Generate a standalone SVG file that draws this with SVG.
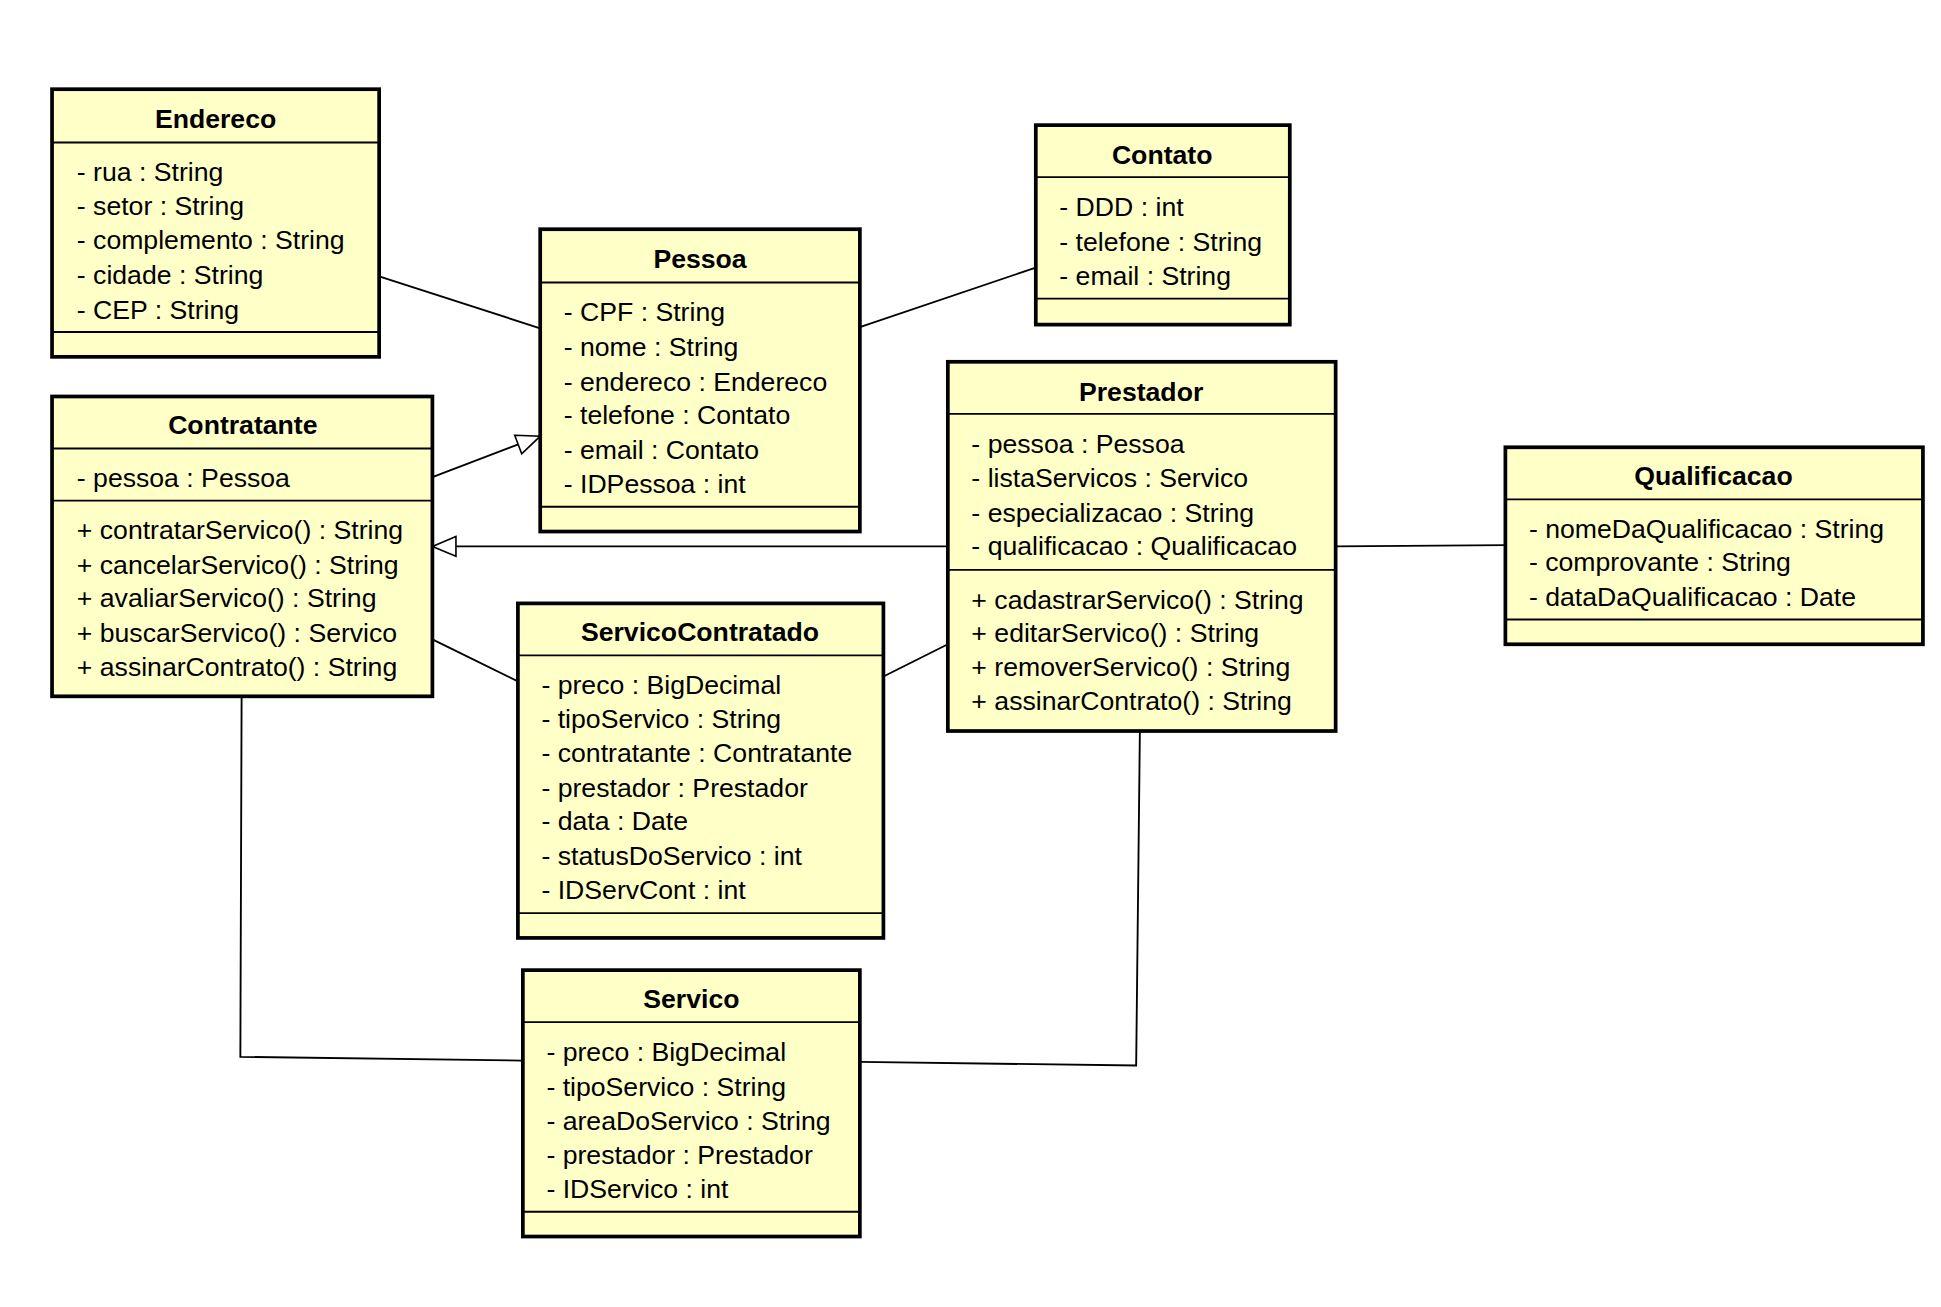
<svg xmlns="http://www.w3.org/2000/svg" width="1941" height="1307" viewBox="0 0 1941 1307">
<style>
.box{fill:#ffffc8;stroke:#000;stroke-width:3}
.ln{stroke:#000;stroke-width:1.5}
.t{font-family:"Liberation Sans",Arial,sans-serif;font-size:21.5px;fill:#000;dominant-baseline:central}
.h{font-weight:bold;text-anchor:middle}
.c{fill:none;stroke:#000;stroke-width:1.5}
</style>
<defs>
<marker id="tri" markerWidth="22" markerHeight="22" refX="20" refY="10" orient="auto" markerUnits="userSpaceOnUse">
<path d="M1,2 L20,10 L1,18 Z" fill="#fff" stroke="#000" stroke-width="1.3"/>
</marker>
</defs>
<rect width="1941" height="1307" fill="#fff"/>
<g transform="scale(1.239)">
<g id="connectors">
<line class="c" x1="306" y1="223" x2="436" y2="265"/>
<line class="c" x1="694" y1="264" x2="836" y2="216"/>
<line class="c" x1="349" y1="385" x2="436" y2="352" marker-end="url(#tri)"/>
<line class="c" x1="765" y1="441" x2="349" y2="441" marker-end="url(#tri)"/>
<line class="c" x1="1078" y1="441" x2="1215" y2="440"/>
<line class="c" x1="349" y1="516" x2="418" y2="550"/>
<line class="c" x1="713" y1="546" x2="765" y2="520"/>
<polyline class="c" points="195,562 194,853 422,856"/>
<polyline class="c" points="920,590 917,860 694,857"/>
</g>
<g id="Endereco">
<rect class="box" x="42" y="72" width="264" height="216"/>
<line class="ln" x1="42" y1="115" x2="306" y2="115"/><line class="ln" x1="42" y1="268" x2="306" y2="268"/>
<text class="t h" x="174" y="96">Endereco</text>
<text class="t" x="62" y="139">- rua : String</text>
<text class="t" x="62" y="166">- setor : String</text>
<text class="t" x="62" y="194">- complemento : String</text>
<text class="t" x="62" y="222">- cidade : String</text>
<text class="t" x="62" y="250">- CEP : String</text>
</g>
<g id="Contato">
<rect class="box" x="836" y="101" width="205" height="161"/>
<line class="ln" x1="836" y1="143" x2="1041" y2="143"/><line class="ln" x1="836" y1="241" x2="1041" y2="241"/>
<text class="t h" x="938" y="125">Contato</text>
<text class="t" x="855" y="167">- DDD : int</text>
<text class="t" x="855" y="195">- telefone : String</text>
<text class="t" x="855" y="223">- email : String</text>
</g>
<g id="Pessoa">
<rect class="box" x="436" y="185" width="258" height="244"/>
<line class="ln" x1="436" y1="228" x2="694" y2="228"/><line class="ln" x1="436" y1="409" x2="694" y2="409"/>
<text class="t h" x="565" y="209">Pessoa</text>
<text class="t" x="455" y="252">- CPF : String</text>
<text class="t" x="455" y="280">- nome : String</text>
<text class="t" x="455" y="308">- endereco : Endereco</text>
<text class="t" x="455" y="335">- telefone : Contato</text>
<text class="t" x="455" y="363">- email : Contato</text>
<text class="t" x="455" y="391">- IDPessoa : int</text>
</g>
<g id="Contratante">
<rect class="box" x="42" y="320" width="307" height="242"/>
<line class="ln" x1="42" y1="362" x2="349" y2="362"/><line class="ln" x1="42" y1="404" x2="349" y2="404"/>
<text class="t h" x="196" y="343">Contratante</text>
<text class="t" x="62" y="386">- pessoa : Pessoa</text>
<text class="t" x="62" y="428">+ contratarServico() : String</text>
<text class="t" x="62" y="456">+ cancelarServico() : String</text>
<text class="t" x="62" y="483">+ avaliarServico() : String</text>
<text class="t" x="62" y="511">+ buscarServico() : Servico</text>
<text class="t" x="62" y="538">+ assinarContrato() : String</text>
</g>
<g id="Prestador">
<rect class="box" x="765" y="292" width="313" height="298"/>
<line class="ln" x1="765" y1="334" x2="1078" y2="334"/><line class="ln" x1="765" y1="460" x2="1078" y2="460"/>
<text class="t h" x="921" y="316">Prestador</text>
<text class="t" x="784" y="358">- pessoa : Pessoa</text>
<text class="t" x="784" y="386">- listaServicos : Servico</text>
<text class="t" x="784" y="414">- especializacao : String</text>
<text class="t" x="784" y="441">- qualificacao : Qualificacao</text>
<text class="t" x="784" y="484">+ cadastrarServico() : String</text>
<text class="t" x="784" y="511">+ editarServico() : String</text>
<text class="t" x="784" y="538">+ removerServico() : String</text>
<text class="t" x="784" y="566">+ assinarContrato() : String</text>
</g>
<g id="Qualificacao">
<rect class="box" x="1215" y="361" width="337" height="159"/>
<line class="ln" x1="1215" y1="403" x2="1552" y2="403"/><line class="ln" x1="1215" y1="500" x2="1552" y2="500"/>
<text class="t h" x="1383" y="384">Qualificacao</text>
<text class="t" x="1234" y="427">- nomeDaQualificacao : String</text>
<text class="t" x="1234" y="454">- comprovante : String</text>
<text class="t" x="1234" y="482">- dataDaQualificacao : Date</text>
</g>
<g id="ServicoContratado">
<rect class="box" x="418" y="487" width="295" height="270"/>
<line class="ln" x1="418" y1="529" x2="713" y2="529"/><line class="ln" x1="418" y1="737" x2="713" y2="737"/>
<text class="t h" x="565" y="510">ServicoContratado</text>
<text class="t" x="437" y="553">- preco : BigDecimal</text>
<text class="t" x="437" y="580">- tipoServico : String</text>
<text class="t" x="437" y="608">- contratante : Contratante</text>
<text class="t" x="437" y="636">- prestador : Prestador</text>
<text class="t" x="437" y="663">- data : Date</text>
<text class="t" x="437" y="691">- statusDoServico : int</text>
<text class="t" x="437" y="718">- IDServCont : int</text>
</g>
<g id="Servico">
<rect class="box" x="422" y="783" width="272" height="215"/>
<line class="ln" x1="422" y1="825" x2="694" y2="825"/><line class="ln" x1="422" y1="978" x2="694" y2="978"/>
<text class="t h" x="558" y="806">Servico</text>
<text class="t" x="441" y="849">- preco : BigDecimal</text>
<text class="t" x="441" y="877">- tipoServico : String</text>
<text class="t" x="441" y="905">- areaDoServico : String</text>
<text class="t" x="441" y="932">- prestador : Prestador</text>
<text class="t" x="441" y="960">- IDServico : int</text>
</g>
</g>
</svg>
